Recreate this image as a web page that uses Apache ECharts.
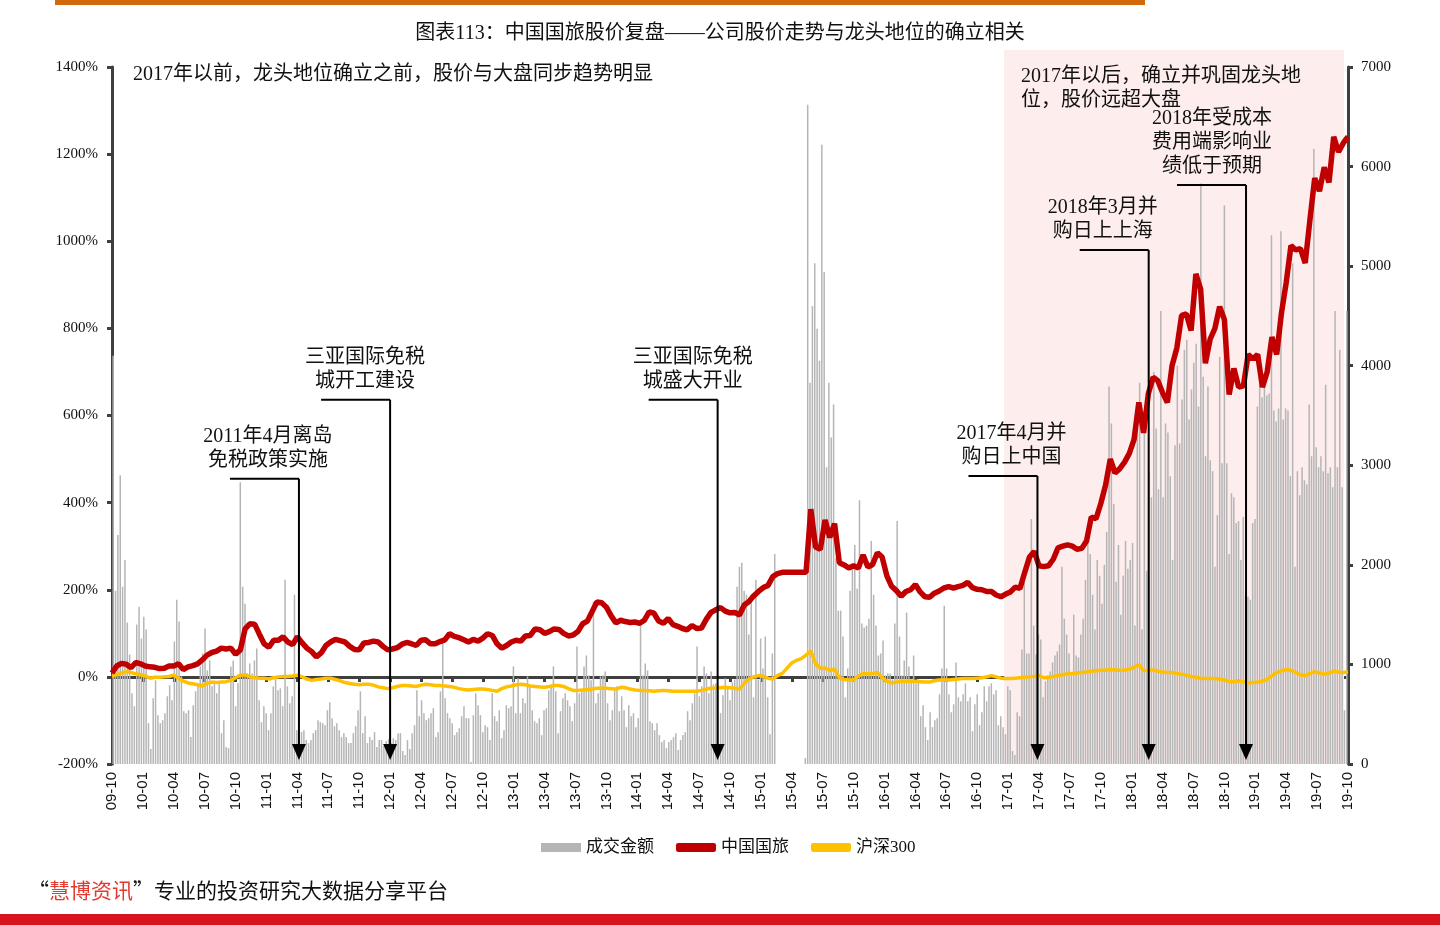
<!DOCTYPE html>
<html>
<head>
<meta charset="utf-8">
<script src="https://cdn.jsdelivr.net/npm/echarts@6/dist/echarts.min.js"></script>
<style>
html, body { margin: 0; padding: 0; background: #fff; }
#chart { width: 1440px; height: 925px; }
</style>
</head>
<body>
<div id="chart"></div>
<script>
// quarterly tick labels on the time axis
var quarterLabels = ['09-10','10-01','10-04','10-07','10-10','11-01','11-04','11-07','11-10',
  '12-01','12-04','12-07','12-10','13-01','13-04','13-07','13-10','14-01','14-04','14-07','14-10',
  '15-01','15-04','15-07','15-10','16-01','16-04','16-07','16-10','17-01','17-04','17-07','17-10',
  '18-01','18-04','18-07','18-10','19-01','19-04','19-07','19-10'];

// weekly turnover (成交金额), right axis
var turnover = [
  4100,1740,2300,2900,1780,2050,1420,1100,710,580,
  1400,1580,1260,1480,1350,410,150,660,840,490,
  410,440,510,680,790,640,1230,1650,1430,880,
  530,510,540,270,590,730,790,980,1110,1360,
  940,1040,780,810,710,810,310,440,170,160,
  980,1040,580,810,2830,1780,1610,910,1010,910,
  1040,1160,640,420,580,510,340,510,780,860,
  740,760,580,1850,780,610,680,1700,340,810,
  320,340,240,210,240,310,340,440,420,410,
  390,540,620,460,380,410,340,270,310,270,
  210,210,310,380,540,730,310,480,210,270,
  240,320,170,240,240,180,230,250,210,260,
  240,310,310,130,90,240,
  150,310,390,740,480,640,510,440,460,510,
  560,270,320,730,1260,660,510,460,410,290,
  320,360,480,580,460,460,20,490,710,590,
  490,320,390,370,240,710,480,430,540,260,
  340,590,560,580,980,510,860,510,660,610,
  880,780,540,430,410,460,290,540,560,740,
  790,980,730,310,530,660,710,640,580,430,
  610,1180,710,730,980,1090,890,840,1630,610,
  710,880,890,930,610,440,540,740,780,530,
  680,540,370,590,480,510,370,460,1400,890,
  1010,940,430,410,340,410,290,220,240,160,
  220,240,270,310,140,240,290,320,530,440,
  610,710,1180,680,780,980,910,710,930,800,
  810,740,510,690,860,780,640,
  820,850,1780,1980,2020,1740,1700,1300,1700,670,
  1850,850,1260,960,1280,670,300,1110,2110,
  0,0,0,0,0,0,0,0,0,0,0,0,
  60,6620,3830,4600,5030,4370,4050,6220,4940,2980,
  3830,3280,3610,2070,1540,1540,1280,670,960,1740,
  1960,2200,1760,2650,1410,1370,1390,1460,2240,1700,
  1390,1090,1110,1240,890,910,910,850,1410,2440,
  1280,890,1040,1520,980,850,1090,810,850,480,
  590,370,240,520,370,440,460,700,960,1590,
  960,700,520,600,1020,670,630,700,810,630,
  670,330,600,700,390,520,780,630,780,810,
  700,740,390,480,370,300,780,740,130,90,
  520,480,1150,1830,1110,1110,2460,1390,
  1100,1300,1250,
  670,830,890,930,1020,1090,1130,1200,1980,1460,
  1300,1110,910,1500,1090,1070,1300,1460,1850,2240,
  2110,1700,1350,2050,1890,1610,2000,2330,3790,3420,
  2610,1830,2200,1500,1890,2240,1960,2050,2220,1390,
  3330,3830,1350,3550,1940,2940,2680,3940,3370,2760,
  4550,2680,3420,3330,2890,2050,3200,4000,3220,3660,
  4160,4260,3460,3760,4030,4220,3590,5830,3890,3090,
  3790,3050,2940,1980,2500,4090,3020,5610,3020,2110,
  2720,2680,2420,2440,2050,2480,1700,1680,1650,2420,
  2460,3590,3810,3680,3890,3700,3720,5310,3550,3440,
  3570,5350,3460,3570,3550,2890,5030,1980,2940,2700,
  2980,2850,2810,3610,3090,6180,3180,2980,3090,2940,
  3810,2920,2980,2780,4550,2980,4160,2780,540,4550
];

// fortnightly cumulative return, left axis (%)
var citsPct = [
  9,25,31,29,21,33,30,25,23,22, 19,20,25,25,30,17,23,26,30,39,
  50,56,59,66,64,66,52,62,110,122, 121,98,76,68,84,84,92,80,74,92,
  78,66,58,46,55,72,80,86,83,80, 70,63,62,78,79,82,80,70,62,64,
  67,75,79,76,72,84,85,
  76,76,81,85,99,93,90,85,80,86, 82,89,99,95,76,66,72,80,84,82,
  94,95,110,108,100,104,110,109,100,94, 96,104,122,128,150,172,170,160,140,124,
  130,127,125,126,123,130,149,146,128,123, 134,120,116,111,108,118,111,112,132,148,
  154,159,151,147,148,
  142,165,173,186,196,205,210,230,237,240, 240,240,240,240,240,385,298,293,360,320,
  352,262,257,250,255,250,280,252,258,285, 275,232,208,198,185,196,200,212,195,184,
  183,192,197,204,207,204,207,210,217,205, 201,200,196,196,188,184,190,195,206,203,
  240,275,288,255,
  253,255,270,296,300,303,300,293,295,312, 367,363,398,440,500,468,478,493,513,545,
  630,560,650,688,680,652,630,715,755,830, 833,795,925,890,720,775,800,850,820,648,
  708,665,668,740,730,740,665,700,780,740, 835,905,990,980,983,950,1050,1145,1115,1170,
  1135,1240,1205,1225,1240
];

var hs300Pct = [
  1,5,9,12,10,7,5,2,-3,-1, -1,0,1,4,-3,-10,-14,-16,-18,-21,
  -15,-12,-13,-12,-11,-8,-2,4,5,0, -2,-3,-3,-5,-2,0,1,1,2,4,
  0,-5,-8,-6,-5,-3,-3,-6,-9,-13, -15,-17,-18,-17,-17,-19,-23,-25,-27,-25,
  -22,-20,-20,-21,-22,-19,-17,
  -18,-20,-20,-21,-22,-24,-27,-29,-30,-29, -28,-28,-29,-31,-33,-27,-23,-21,-18,-17,
  -18,-21,-22,-23,-24,-22,-20,-20,-22,-27, -31,-31,-30,-29,-28,-26,-26,-26,-27,-28,
  -24,-25,-28,-30,-31,-31,-32,-33,-32,-31, -32,-33,-33,-33,-33,-33,-33,-31,-28,-26,
  -26,-25,-24,-25,-26,
  -28,-15,-5,0,3,1,-3,-5,3,8, 20,32,38,42,50,60,30,20,20,15,
  18,-2,-6,-7,-7,2,8,7,8,10, -2,-10,-14,-12,-10,-10,-10,-10,-11,-12,
  -12,-9,-7,-7,-7,-6,-5,-4,-4,-4, -3,-2,0,3,0,-3,-4,-4,-3,-2,
  -1,0,1,3,
  -2,-1,1,3,5,7,8,9,10,11, 13,14,15,15,17,16,15,16,18,22,
  28,14,15,16,13,11,10,10,8,6, 4,1,-1,-3,-4,-4,-4,-5,-7,-11,
  -11,-9,-11,-14,-13,-12,-10,-6,3,10, 14,17,15,10,5,3,8,12,9,6,
  9,13,11,10,12
];

// events: position in quarters from 09-10, underline level on left axis (%)
var notes = [
  { q: 6.05, level: 455, dx: -31, text: '2011年4月离岛\n免税政策实施' },
  { q: 9.0, level: 636, dx: -25, text: '三亚国际免税\n城开工建设' },
  { q: 19.6, level: 636, dx: -25, text: '三亚国际免税\n城盛大开业' },
  { q: 29.95, level: 461, dx: -26, text: '2017年4月并\n购日上中国' },
  { q: 33.55, level: 980, dx: -46, text: '2018年3月并\n购日上上海' },
  { q: 36.7, level: 1129, dx: -34, text: '2018年受成本\n费用端影响业\n绩低于预期' }
];

var FONT = "'Liberation Serif','Noto Sans CJK SC',serif";
var AXIS = '#3f3f3f';

var chart = echarts.init(document.getElementById('chart'));

var option = {
  animation: false,
  backgroundColor: '#fff',
  title: {
    text: '图表113：中国国旅股价复盘——公司股价走势与龙头地位的确立相关',
    left: 'center', top: 19,
    textStyle: { fontSize: 20, fontWeight: 'normal', fontFamily: FONT, color: '#111' }
  },
  legend: {
    left: 536, top: 834,
    itemWidth: 40, itemHeight: 9, itemGap: 22,
    data: [
      { name: '成交金额', icon: 'rect' },
      { name: '中国国旅', icon: 'roundRect' },
      { name: '沪深300', icon: 'roundRect' }
    ],
    textStyle: { fontSize: 17, fontFamily: FONT, color: '#111' }
  },
  grid: { left: 112, right: 92, top: 67, bottom: 161 },
  xAxis: [
    {
      type: 'category', data: quarterLabels, boundaryGap: false,
      axisLine: { lineStyle: { color: AXIS, width: 3 } },
      axisTick: { show: true, length: 5, lineStyle: { color: AXIS, width: 3 } },
      axisLabel: { interval: 0, rotate: 90, margin: 8, fontSize: 15,
        fontFamily: "'Liberation Sans',Arial,sans-serif", color: '#111' },
      splitLine: { show: false }
    },
    { type: 'category', data: turnover.map(function (v, i) { return i; }), show: false, boundaryGap: true },
    { type: 'category', data: citsPct.map(function (v, i) { return i; }), show: false, boundaryGap: false }
  ],
  yAxis: [
    {
      type: 'value', min: -200, max: 1400, interval: 200,
      axisLine: { show: true, lineStyle: { color: AXIS, width: 3 } },
      axisTick: { show: true, length: 5, lineStyle: { color: AXIS, width: 3 } },
      axisLabel: { formatter: function (v) { return String(v) + '%'; },
        margin: 14, fontSize: 15, fontFamily: FONT, color: '#111' },
      splitLine: { show: false }
    },
    {
      type: 'value', min: 0, max: 7000, interval: 1000, position: 'right',
      axisLine: { show: true, lineStyle: { color: AXIS, width: 3 } },
      axisTick: { show: true, length: 5, lineStyle: { color: AXIS, width: 3 } },
      axisLabel: { formatter: function (v) { return String(v); },
        margin: 13, fontSize: 15, fontFamily: FONT, color: '#111' },
      splitLine: { show: false }
    }
  ],
  series: [
    {
      name: '成交金额', type: 'bar', xAxisIndex: 1, yAxisIndex: 1,
      data: turnover, barWidth: 1.5, itemStyle: { color: '#b5b5b5' }
    },
    {
      name: '沪深300', type: 'line', xAxisIndex: 2, yAxisIndex: 0,
      data: hs300Pct, showSymbol: false, symbol: 'none',
      itemStyle: { color: '#ffc000' },
      lineStyle: { color: '#ffc000', width: 3.5 }
    },
    {
      name: '中国国旅', type: 'line', xAxisIndex: 2, yAxisIndex: 0,
      data: citsPct, showSymbol: false, symbol: 'none',
      itemStyle: { color: '#c00000' },
      lineStyle: { color: '#c00000', width: 5.5 }
    }
  ]
};
chart.setOption(option);

// place annotations from the axes
var xa = chart.convertToPixel({ xAxisIndex: 0 }, quarterLabels[0]);
var xb = chart.convertToPixel({ xAxisIndex: 0 }, quarterLabels[quarterLabels.length - 1]);
function qx(q) { return xa + (xb - xa) * q / (quarterLabels.length - 1); }
function py(v) { return chart.convertToPixel({ yAxisIndex: 0 }, v); }
var baseY = py(-200);
var topY = py(1400);

var els = [];
els.push({ type: 'rect', z: 1, shape: { x: qx(29) - 4, y: topY - 17, width: xb - 4 - (qx(29) - 4), height: baseY - topY + 17 },
  style: { fill: '#fdeded' } });
els.push({ type: 'rect', shape: { x: 55, y: 0, width: 1090, height: 5 }, style: { fill: '#d2690a' } });
els.push({ type: 'rect', shape: { x: 0, y: 914, width: 1440, height: 11 }, style: { fill: '#d7141d' } });

notes.forEach(function (n) {
  var ax = qx(n.q), uy = py(n.level), tip = baseY - 4;
  els.push({ type: 'line', z: 20, shape: { x1: ax - 69, y1: uy, x2: ax, y2: uy }, style: { stroke: '#000', lineWidth: 2 } });
  els.push({ type: 'line', z: 20, shape: { x1: ax, y1: uy, x2: ax, y2: tip - 12 }, style: { stroke: '#000', lineWidth: 2 } });
  els.push({ type: 'polygon', z: 20, shape: { points: [[ax - 7, tip - 16], [ax + 7, tip - 16], [ax, tip]] }, style: { fill: '#000' } });
  els.push({ type: 'text', z: 20, x: ax + n.dx, y: uy - 6,
    style: { text: n.text, fill: '#111', fontSize: 20, fontFamily: FONT, lineHeight: 24, align: 'center', verticalAlign: 'bottom' } });
});

els.push({ type: 'text', z: 20, x: xa + 21, y: 75,
  style: { text: '2017年以前，龙头地位确立之前，股价与大盘同步趋势明显', fill: '#111', fontSize: 20, fontFamily: FONT, align: 'left', verticalAlign: 'middle' } });
els.push({ type: 'text', z: 20, x: qx(29) + 13, y: 65,
  style: { text: '2017年以后，确立并巩固龙头地\n位，股价远超大盘', fill: '#111', fontSize: 20, fontFamily: FONT, lineHeight: 24, align: 'left', verticalAlign: 'top' } });
els.push({ type: 'text', z: 20, x: 28, y: 890,
  style: {
    text: '{a|“}{b|慧博资讯}{a|”专业的投资研究大数据分享平台}',
    verticalAlign: 'middle',
    rich: {
      a: { fill: '#111', fontSize: 21, fontFamily: "'Noto Sans CJK SC',sans-serif" },
      b: { fill: '#e23a2e', fontSize: 21, fontFamily: "'Noto Sans CJK SC',sans-serif" }
    }
  } });

chart.setOption({ graphic: { elements: els } });
</script>
</body>
</html>
